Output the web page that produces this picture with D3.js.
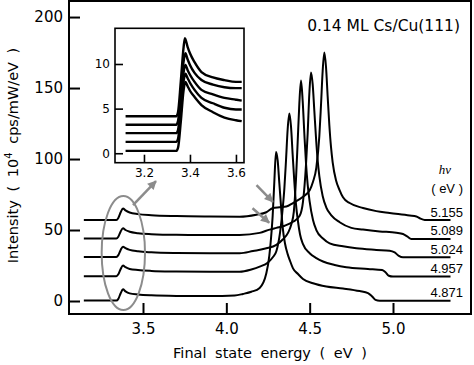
<!DOCTYPE html>
<html>
<head>
<meta charset="utf-8">
<script src="https://cdn.jsdelivr.net/npm/d3@7"></script>
<style>
  body { margin: 0; background: #fff; }
  svg text { font-family: "DejaVu Sans", sans-serif; fill: #000; }
</style>
</head>
<body>
<script>
// Size of the drawing
let width = 474;
let height = 365;

// Main plot: final state energy (eV) vs intensity, curves stacked as measured
var spectrum4871 = [[3.145,0.3],[3.34,0.3],[3.352,1.5],[3.366,5.5],[3.38,8.2],[3.395,6.8],[3.42,5.4],[3.47,4.6],[3.55,4.0],[3.70,3.6],[3.90,3.5],[4.05,3.9],[4.10,5.0],[4.15,6.5],[4.20,9.2],[4.24,19.5],[4.258,32],[4.268,44],[4.278,60],[4.288,84],[4.298,105],[4.308,99],[4.318,83],[4.328,67],[4.338,52],[4.352,40.5],[4.368,33],[4.38,29],[4.40,23],[4.43,19],[4.46,15.5],[4.52,12.5],[4.60,10.2],[4.70,8.8],[4.80,7.0],[4.85,5.6],[4.875,3.2],[4.895,0.8],[4.92,0.2],[5.345,0.2]];
var spectrum4957 = [[3.145,17.5],[3.34,17.5],[3.352,18.8],[3.366,22.5],[3.38,25],[3.395,23.8],[3.42,22.6],[3.47,21.8],[3.55,21.2],[3.70,20.8],[3.90,20.6],[4.08,20.6],[4.15,22.2],[4.20,24.2],[4.25,27.2],[4.28,31],[4.30,35],[4.322,48],[4.338,65],[4.348,79],[4.358,99],[4.368,121],[4.378,132],[4.388,123],[4.398,103],[4.408,84],[4.418,68],[4.43,56],[4.442,47],[4.46,40],[4.50,33.6],[4.54,30.2],[4.58,27.8],[4.65,25.4],[4.72,23.8],[4.85,22.6],[4.935,21.8],[4.955,20.3],[4.975,17.8],[5.00,17.2],[5.345,17.2]];
var spectrum5024 = [[3.145,31],[3.34,31],[3.352,32.3],[3.366,36],[3.38,38.3],[3.395,37.2],[3.42,36],[3.47,35],[3.55,34.3],[3.70,33.8],[3.90,33.6],[4.08,33.6],[4.16,35.2],[4.24,37.1],[4.30,39.6],[4.34,43.5],[4.37,48],[4.39,54],[4.405,63],[4.418,86],[4.428,112],[4.438,139],[4.448,155.3],[4.458,141],[4.468,118],[4.478,97],[4.488,82],[4.50,70],[4.52,57],[4.54,50],[4.58,44],[4.62,40.6],[4.70,38.5],[4.78,37.1],[4.90,36],[4.98,35.4],[5.01,34.2],[5.035,31.8],[5.06,30.8],[5.345,30.8]];
var spectrum5089 = [[3.145,44],[3.34,44],[3.352,45.3],[3.366,49],[3.38,51.3],[3.395,50],[3.42,48.8],[3.47,47.8],[3.55,47.1],[3.70,46.6],[3.90,46.5],[4.08,46.5],[4.20,48],[4.26,50.3],[4.30,51.5],[4.35,53],[4.40,55.8],[4.44,60],[4.46,70],[4.478,96],[4.488,118],[4.498,146],[4.508,161],[4.518,152.7],[4.528,134],[4.538,115],[4.548,99],[4.558,88],[4.578,74],[4.60,65.8],[4.63,60.3],[4.68,55.5],[4.75,51.5],[4.82,50.3],[4.92,49],[5.02,48.1],[5.06,47.2],[5.085,45.5],[5.11,43.7],[5.345,43.7]];
var spectrum5155 = [[3.145,57],[3.34,57],[3.352,58.5],[3.366,62.5],[3.38,65.2],[3.395,63.8],[3.42,62.3],[3.47,61.2],[3.55,60.4],[3.70,59.8],[3.90,59.5],[4.08,59.4],[4.18,60.8],[4.24,62.5],[4.28,65.5],[4.32,66],[4.36,66.5],[4.40,69],[4.46,73.5],[4.50,78],[4.52,84],[4.54,94],[4.558,116],[4.568,138],[4.578,162],[4.588,175],[4.598,165],[4.608,144],[4.618,124],[4.628,108.5],[4.638,97.7],[4.658,85],[4.68,78],[4.70,73],[4.74,69],[4.82,65.5],[4.90,63.3],[4.98,62],[5.10,60.2],[5.14,59.5],[5.165,58],[5.19,57.1],[5.345,57]];

var photonEnergyLabels = ['4.871', '4.957', '5.024', '5.089', '5.155'];

// Inset: close-up of the step near 3.37 eV
var insetSpectrum1 = [[3.12,0.26],[3.34,0.26],[3.348,0.6],[3.36,3.5],[3.372,7.0],[3.38,8.0],[3.39,7.5],[3.40,7.0],[3.42,6.3],[3.45,5.4],[3.50,4.6],[3.55,4.0],[3.60,3.7],[3.625,3.6]];
var insetSpectrum2 = [[3.12,1.27],[3.34,1.27],[3.348,1.6],[3.36,4.5],[3.372,8.0],[3.38,8.9],[3.39,8.4],[3.40,7.9],[3.42,7.1],[3.45,6.2],[3.50,5.6],[3.55,5.1],[3.60,4.9],[3.625,4.9]];
var insetSpectrum3 = [[3.12,2.25],[3.34,2.25],[3.348,2.6],[3.36,5.5],[3.372,9.0],[3.38,9.9],[3.39,9.3],[3.40,8.8],[3.42,8.0],[3.45,7.1],[3.50,6.6],[3.55,6.2],[3.60,6.0],[3.625,5.9]];
var insetSpectrum4 = [[3.12,3.2],[3.34,3.2],[3.348,3.6],[3.36,6.8],[3.372,10.2],[3.38,11.2],[3.39,10.5],[3.40,9.9],[3.42,9.0],[3.45,8.2],[3.50,7.7],[3.55,7.4],[3.60,7.3],[3.625,7.3]];
var insetSpectrum5 = [[3.12,4.15],[3.34,4.15],[3.348,4.6],[3.36,8.0],[3.372,11.8],[3.378,12.9],[3.39,11.9],[3.40,11.2],[3.42,10.2],[3.45,9.1],[3.50,8.5],[3.55,8.2],[3.60,8.0],[3.625,8.0]];

// Tick values
var xTicks = [3.5, 4.0, 4.5, 5.0];
var yTicks = [0, 50, 100, 150, 200];
var insetXTicks = [3.2, 3.4, 3.6];
var insetYTicks = [0, 5, 10];

var mainSpectra = [spectrum4871, spectrum4957, spectrum5024, spectrum5089, spectrum5155];
var insetSpectra = [insetSpectrum1, insetSpectrum2, insetSpectrum3, insetSpectrum4, insetSpectrum5];

var svg = d3.select('body')
            .append('svg')
            .attr('width', width)
            .attr('height', height);

var grey = '#8c8c8c';

// arrow head for the grey annotations
svg.append('defs').append('marker')
  .attr('id', 'head')
  .attr('viewBox', '0 0 10 10')
  .attr('refX', 9).attr('refY', 5)
  .attr('markerWidth', 10).attr('markerHeight', 9)
  .attr('markerUnits', 'userSpaceOnUse')
  .attr('orient', 'auto')
  .append('path').attr('d', 'M0,0 L10,5 L0,10 Z').attr('fill', grey);

// Main scales
var x = d3.scaleLinear().domain([3.056, 5.468]).range([69, 471]);
var y = d3.scaleLinear().domain([-9.15, 211.3]).range([314, 1]);

var line = d3.line()
  .x(function(d) { return x(d[0]); })
  .y(function(d) { return y(d[1]); })
  .curve(d3.curveMonotoneX);

// Axes with inward ticks
var yAxis = svg.append('g').attr('transform', 'translate(69,0)')
  .call(d3.axisLeft(y).tickValues(yTicks).tickSize(-11).tickPadding(6));
var xAxis = svg.append('g').attr('transform', 'translate(0,314)')
  .call(d3.axisBottom(x).tickValues(xTicks).tickSize(-11).tickPadding(9).tickFormat(d3.format('.1f')));

[yAxis, xAxis].forEach(function(g) {
  g.select('.domain').remove();
  g.selectAll('line').attr('stroke', '#000').attr('stroke-width', 2);
  g.selectAll('text').attr('font-size', 15).attr('font-family', '"DejaVu Sans", sans-serif');
});

// Spectra
svg.append('g').selectAll('path')
  .data(mainSpectra)
  .enter().append('path')
  .attr('d', line)
  .attr('fill', 'none')
  .attr('stroke', '#000')
  .attr('stroke-width', 2);

// Photon energy labels sitting on the right end of each curve
svg.append('g').selectAll('text')
  .data(mainSpectra)
  .enter().append('text')
  .attr('x', 463)
  .attr('y', function(d) { return y(d[d.length - 1][1]) - 3.5; })
  .attr('text-anchor', 'end')
  .style('font-family', '"Liberation Sans", Arial, sans-serif')
  .attr('font-size', 13)
  .text(function(d, i) { return photonEnergyLabels[i]; });

svg.append('text').attr('x', 445).attr('y', 174).attr('text-anchor', 'middle')
  .style('font-family', '"Liberation Serif", serif').style('font-style', 'italic')
  .attr('font-size', 13).text('hν');
svg.append('text').attr('x', 463).attr('y', 192.5).attr('text-anchor', 'end')
  .style('font-family', '"Liberation Sans", Arial, sans-serif')
  .attr('font-size', 13).text('( eV )');

// Title inside the plot
svg.append('text').attr('x', 460).attr('y', 30.5).attr('text-anchor', 'end')
  .attr('font-size', 15.5).text('0.14 ML Cs/Cu(111)');

// Grey annotations: ellipse around the step and arrows
svg.append('ellipse')
  .attr('cx', x(3.382)).attr('cy', y(33.8))
  .attr('rx', x(3.512) - x(3.382)).attr('ry', y(0) - y(40.1))
  .attr('fill', 'none').attr('stroke', grey).attr('stroke-width', 2);

var arrows = [[[3.44, 67.6], [3.578, 84.5]], [[4.181, 81.7], [4.279, 69.9]], [[4.157, 65.3], [4.257, 55.1]]];
svg.append('g').selectAll('line')
  .data(arrows)
  .enter().append('line')
  .attr('x1', function(d) { return x(d[0][0]); })
  .attr('y1', function(d) { return y(d[0][1]); })
  .attr('x2', function(d) { return x(d[1][0]); })
  .attr('y2', function(d) { return y(d[1][1]); })
  .attr('stroke', grey).attr('stroke-width', 2.5)
  .attr('marker-end', 'url(#head)');

// Frame
svg.append('rect').attr('x', 69).attr('y', 1).attr('width', 402).attr('height', 313)
  .attr('fill', 'none').attr('stroke', '#000').attr('stroke-width', 2);

// Axis titles
svg.append('text').attr('x', 270).attr('y', 358).attr('text-anchor', 'middle')
  .attr('font-size', 14.5).attr('word-spacing', 4)
  .text('Final state energy ( eV )');

var yTitle = svg.append('text')
  .attr('transform', 'translate(17.5,155.5) rotate(-90)')
  .attr('text-anchor', 'middle')
  .attr('font-size', 14.5).attr('word-spacing', 4);
yTitle.append('tspan').text('Intensity ( 10');
yTitle.append('tspan').attr('font-size', 10).attr('dy', -6).text('4');
yTitle.append('tspan').attr('dy', 6).text(' cps/mW/eV )');

// Inset
var xi = d3.scaleLinear().domain([3.074, 3.635]).range([115, 244]);
var yi = d3.scaleLinear().domain([-1.06, 14.0]).range([162.7, 28.3]);

var insetLine = d3.line()
  .x(function(d) { return xi(d[0]); })
  .y(function(d) { return yi(d[1]); })
  .curve(d3.curveMonotoneX);

svg.append('rect').attr('x', 115).attr('y', 28.3).attr('width', 129).attr('height', 134.4)
  .attr('fill', '#fff').attr('stroke', '#000').attr('stroke-width', 1.6);

var yiAxis = svg.append('g').attr('transform', 'translate(115,0)')
  .call(d3.axisLeft(yi).tickValues(insetYTicks).tickSize(-8).tickPadding(5));
var xiAxis = svg.append('g').attr('transform', 'translate(0,162.7)')
  .call(d3.axisBottom(xi).tickValues(insetXTicks).tickSize(-8).tickPadding(6).tickFormat(d3.format('.1f')));

[yiAxis, xiAxis].forEach(function(g) {
  g.select('.domain').remove();
  g.selectAll('line').attr('stroke', '#000').attr('stroke-width', 1.6);
  g.selectAll('text').attr('font-size', 12).attr('font-family', '"DejaVu Sans", sans-serif');
});

svg.append('g').selectAll('path')
  .data(insetSpectra)
  .enter().append('path')
  .attr('d', insetLine)
  .attr('fill', 'none')
  .attr('stroke', '#000')
  .attr('stroke-width', 2.4);
</script>
</body>
</html>
